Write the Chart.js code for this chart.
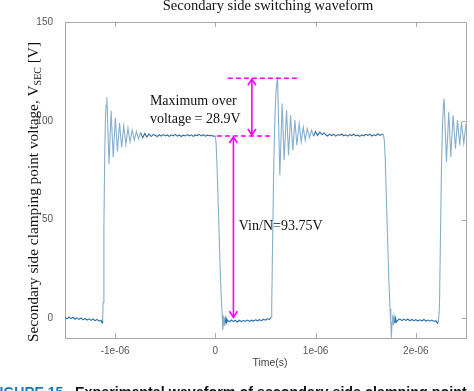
<!DOCTYPE html>
<html>
<head>
<meta charset="utf-8">
<script src="https://cdn.jsdelivr.net/npm/chart.js@4.4.1/dist/chart.umd.min.js"></script>
<style>
  html, body { margin: 0; padding: 0; background: #fff; }
  canvas { display: block; }
</style>
</head>
<body>
<canvas id="waveChart" width="474" height="391"></canvas>
<script>
// Waveform samples, [time in us, voltage in V]
const offA = [[-1.50,0.4],[-1.48,-0.3],[-1.46,0.6],[-1.44,-0.2],[-1.42,0.5],[-1.40,-0.5],[-1.38,0.2],[-1.36,-0.6],
  [-1.34,0.1],[-1.32,-0.8],[-1.30,-0.1],[-1.28,-0.9],[-1.26,-0.3],[-1.24,-1.1],[-1.22,-0.4],[-1.20,-1.2],
  [-1.18,-0.6],[-1.16,-1.5],[-1.14,-1.0],[-1.13,-2.4],[-1.125,-1.2]];
const riseA = [[-1.12,8],[-1.112,45],[-1.104,82],[-1.097,100],[-1.09,108],[-1.082,112]];
const ringA = [[-1.061,78],[-1.040,105],[-1.019,81.5],[-0.998,101.5],[-0.977,84.5],[-0.956,99],[-0.935,86.5],
  [-0.914,97.5],[-0.893,88],[-0.872,96.3],[-0.851,89.3],[-0.830,95.3],[-0.809,90.2],[-0.788,94.6],[-0.767,90.9],
  [-0.746,94],[-0.725,91.4],[-0.704,93.6],[-0.683,91.8],[-0.662,93.3],[-0.641,92],[-0.62,93]];
const onA = [[-0.60,92.6],[-0.58,92.0],[-0.56,92.9],[-0.54,92.2],[-0.52,93.0],[-0.50,92.3],[-0.48,92.8],[-0.46,92.1],
  [-0.44,92.9],[-0.42,92.4],[-0.40,93.1],[-0.38,92.2],[-0.36,92.8],[-0.34,92.0],[-0.32,92.7],[-0.30,92.3],
  [-0.28,93.0],[-0.26,92.4],[-0.24,92.9],[-0.22,92.1],[-0.20,92.8],[-0.18,92.5],[-0.16,93.1],[-0.14,92.3],
  [-0.12,92.9],[-0.10,92.2],[-0.08,92.7],[-0.06,92.4],[-0.04,92.6],[-0.02,92.2],[0.0,92.3]];
const fallA = [[0.008,88],[0.02,72],[0.033,50],[0.046,28],[0.058,11],[0.068,2],[0.074,-6],[0.078,-3],
  [0.083,1],[0.088,-3.5],[0.094,0.5],[0.10,-2.5],[0.106,0],[0.113,-2]];
const offB = [[0.12,-1.0],[0.14,-1.8],[0.16,-0.9],[0.18,-1.6],[0.20,-1.1],[0.22,-1.9],[0.24,-1.0],[0.26,-1.7],
  [0.28,-1.2],[0.30,-1.5],[0.32,-0.9],[0.34,-1.6],[0.36,-1.0],[0.38,-1.4],[0.40,-0.8],[0.42,-1.3],[0.44,-0.7],
  [0.46,-1.2],[0.48,-0.5],[0.50,-1.0],[0.52,-0.3],[0.54,-0.6],[0.555,0.5]];
const riseB = [[0.562,6],[0.57,35],[0.58,70],[0.59,95],[0.60,110],[0.61,118],[0.62,122]];
const ringB = [[0.643,72.4],[0.666,108.7],[0.686,80],[0.71,105.3],[0.73,82.5],[0.75,102.8],[0.773,85],[0.793,100.3],
  [0.813,87.6],[0.836,98.6],[0.856,89.3],[0.876,96.9],[0.896,90.1],[0.916,96],[0.939,91.5],[0.959,95.2],
  [0.979,92.2],[0.999,94.5],[1.019,92.6],[1.042,94.2],[1.065,93],[1.085,93.8]];
const onB = [[1.10,92.9],[1.12,92.3],[1.14,93.2],[1.16,92.5],[1.18,93.1],[1.20,92.2],[1.22,93.0],[1.24,92.6],
  [1.26,93.3],[1.28,92.4],[1.30,92.9],[1.32,92.2],[1.34,93.0],[1.36,92.5],[1.38,93.2],[1.40,92.3],[1.42,92.8],
  [1.44,92.1],[1.46,92.9],[1.48,92.4],[1.50,93.1],[1.52,92.6],[1.54,93.2],[1.56,92.3],[1.58,92.9],[1.60,92.5],
  [1.62,93.4],[1.64,92.6],[1.66,93.0],[1.675,93.2]];
const fallB = [[1.685,90],[1.695,80],[1.705,62],[1.718,40],[1.73,20],[1.742,5],[1.75,-3],[1.756,-9.8],[1.762,-2],
  [1.768,1.5],[1.775,-3.5],[1.782,0.8],[1.79,-2.5],[1.797,0],[1.805,-2]];
const offC = [[1.82,-1.0],[1.84,-0.3],[1.86,-1.2],[1.88,-0.5],[1.90,-1.1],[1.92,-0.4],[1.94,-1.3],[1.96,-0.6],
  [1.98,-1.2],[2.00,-0.7],[2.02,-1.4],[2.04,-0.8],[2.06,-1.3],[2.08,-0.6],[2.10,-1.4],[2.12,-0.9],[2.14,-1.5],
  [2.16,-0.9],[2.18,-1.6],[2.20,-1.2],[2.215,-2.6],[2.225,-1.5]];
const riseC = [[2.235,5],[2.245,40],[2.255,75],[2.265,97],[2.275,108],[2.282,111.2]];
const ringC = [[2.305,79.1],[2.328,104.5],[2.348,81.7],[2.371,102.8],[2.395,85.9],[2.415,100.3],[2.438,87.6],
  [2.455,99.4],[2.478,88.6],[2.5,98.5]];

const xTickValues = [-1, 0, 1, 2];
const xTickLabels = ['-1e-06', '0', '1e-06', '2e-06'];
const yTickValues = [0, 50, 100, 150];

// annotation levels (V)
const overshootLevel = 121.5;
const clampLevel = 92.3;

const waveform = [].concat(offA, riseA, ringA, onA, fallA, offB, riseB, ringB, onB, fallB, offC, riseC, ringC)
  .map(p => ({ x: p[0], y: p[1] }));

const MAGENTA = '#ff00ff';
const SERIF = '"Liberation Serif", "Times New Roman", serif';
const SANS = '"Liberation Sans", Arial, sans-serif';

const annotations = {
  topDash: [0.125, 0.82],
  midDash: [0.015, 0.57],
  overArrowT: 0.364,
  vinArrowT: 0.18,
  labels: [
    { text: 'Maximum over', t: -0.653, v: 107.8 },
    { text: 'voltage = 28.9V', t: -0.653, v: 98.7 },
    { text: 'Vin/N=93.75V', t: 0.234, v: 44.6 }
  ]
};

function arrowHead(ctx, x, y, dir) {
  // dir = -1 points up, 1 points down
  ctx.beginPath();
  ctx.moveTo(x - 4, y - dir * 6);
  ctx.lineTo(x, y);
  ctx.lineTo(x + 4, y - dir * 6);
  ctx.stroke();
}

const decorPlugin = {
  id: 'decor',
  afterDatasetsDraw(chart) {
    const { ctx, chartArea: a, scales: { x, y } } = chart;
    ctx.save();
    // frame and inward ticks
    ctx.strokeStyle = '#a8a8a8';
    ctx.lineWidth = 1;
    ctx.beginPath();
    ctx.moveTo(a.left, a.top + 0.5);
    ctx.lineTo(a.right + 0.5, a.top + 0.5);
    ctx.lineTo(a.right + 0.5, a.bottom);
    ctx.stroke();
    ctx.beginPath();
    xTickValues.forEach(v => {
      const px = Math.round(x.getPixelForValue(v)) + 0.5;
      ctx.moveTo(px, a.bottom); ctx.lineTo(px, a.bottom - 5);
      ctx.moveTo(px, a.top); ctx.lineTo(px, a.top + 5);
    });
    yTickValues.forEach(v => {
      const py = Math.round(y.getPixelForValue(v)) + 0.5;
      ctx.moveTo(a.right, py); ctx.lineTo(a.right - 4, py);
    });
    ctx.stroke();

    // magenta dimension lines
    ctx.strokeStyle = MAGENTA;
    ctx.lineWidth = 1.6;
    ctx.setLineDash([5, 3]);
    const yTop = y.getPixelForValue(overshootLevel);
    const yMid = y.getPixelForValue(clampLevel);
    const y0 = y.getPixelForValue(0);
    ctx.beginPath();
    ctx.moveTo(x.getPixelForValue(annotations.topDash[0]), yTop);
    ctx.lineTo(x.getPixelForValue(annotations.topDash[1]), yTop);
    ctx.moveTo(x.getPixelForValue(annotations.midDash[0]), yMid);
    ctx.lineTo(x.getPixelForValue(annotations.midDash[1]), yMid);
    ctx.stroke();
    ctx.setLineDash([]);

    const xo = x.getPixelForValue(annotations.overArrowT);
    const xv = x.getPixelForValue(annotations.vinArrowT);
    ctx.beginPath();
    ctx.moveTo(xo, yTop + 1); ctx.lineTo(xo, yMid - 1);
    ctx.moveTo(xv, yMid + 1); ctx.lineTo(xv, y0 - 1);
    ctx.stroke();
    arrowHead(ctx, xo, yTop + 1, -1);
    arrowHead(ctx, xo, yMid - 1, 1);
    arrowHead(ctx, xv, yMid + 1, -1);
    arrowHead(ctx, xv, y0 - 1, 1);

    ctx.fillStyle = '#111';
    ctx.font = '14px ' + SERIF;
    ctx.textBaseline = 'alphabetic';
    ctx.textAlign = 'left';
    annotations.labels.forEach(l => {
      ctx.fillText(l.text, x.getPixelForValue(l.t), y.getPixelForValue(l.v));
    });
    ctx.restore();
  },
  afterDraw(chart) {
    const { ctx } = chart;
    ctx.save();
    // title
    ctx.fillStyle = '#111';
    ctx.font = '14.5px ' + SERIF;
    ctx.textAlign = 'center';
    ctx.textBaseline = 'alphabetic';
    ctx.fillText('Secondary side switching waveform', 268, 10);

    // x title
    ctx.fillStyle = '#444';
    ctx.font = '10.5px ' + SANS;
    ctx.fillText('Time(s)', 270, 366);

    // y title with subscript
    const main = 'Secondary side clamping point voltage, V';
    const sub = 'SEC';
    const tail = ' [V]';
    ctx.font = '15.3px ' + SERIF;
    const wMain = ctx.measureText(main).width;
    const wTail = ctx.measureText(tail).width;
    ctx.font = '10px ' + SERIF;
    const wSub = ctx.measureText(sub).width;
    const total = wMain + wSub + wTail;
    ctx.translate(38, 192);
    ctx.rotate(-Math.PI / 2);
    ctx.fillStyle = '#111';
    ctx.textAlign = 'left';
    let cx = -total / 2;
    ctx.font = '15.3px ' + SERIF;
    ctx.fillText(main, cx, 0);
    cx += wMain;
    ctx.font = '10px ' + SERIF;
    ctx.fillText(sub, cx, 3);
    cx += wSub;
    ctx.font = '15.3px ' + SERIF;
    ctx.fillText(tail, cx, 0);
    ctx.setTransform(1, 0, 0, 1, 0, 0);

    // caption, cut off by the bottom edge
    ctx.font = 'bold 14px ' + SANS;
    ctx.textAlign = 'left';
    ctx.fillStyle = '#1b75b3';
    ctx.fillText('FIGURE 15.', -9, 397);
    const capText = 'Experimental waveform of secondary side clamping point';
    const capW = ctx.measureText(capText).width;
    const capSize = Math.min(15.5, 14 * 392 / capW);
    ctx.font = 'bold ' + capSize.toFixed(2) + 'px ' + SANS;
    ctx.fillStyle = '#111';
    ctx.fillText(capText, 75, 397);
    ctx.restore();
  }
};

const dark = '#2a6fa8';
const light = '#86afcc';

new Chart(document.getElementById('waveChart').getContext('2d'), {
  type: 'line',
  data: {
    datasets: [{
      data: waveform,
      borderWidth: 1.1,
      borderColor: dark,
      pointRadius: 0,
      tension: 0,
      segment: {
        borderColor: c => Math.abs(c.p1.parsed.y - c.p0.parsed.y) < 3 ? dark : light
      }
    }]
  },
  options: {
    responsive: false,
    animation: false,
    layout: { padding: { top: 22, right: 8, left: 0, bottom: 0 } },
    plugins: { legend: { display: false }, tooltip: { enabled: false } },
    scales: {
      x: {
        type: 'linear',
        min: -1.5,
        max: 2.5,
        grid: { display: false },
        border: { display: true, color: '#a8a8a8' },
        afterBuildTicks: s => { s.ticks = xTickValues.map(v => ({ value: v })); },
        afterFit: s => { s.height = 53; },
        ticks: {
          color: '#555',
          font: { family: SANS, size: 10 },
          padding: -1,
          maxRotation: 0,
          callback: v => xTickLabels[xTickValues.indexOf(v)]
        }
      },
      y: {
        min: -10,
        max: 150,
        grid: { display: false },
        border: { display: true, color: '#a8a8a8' },
        afterBuildTicks: s => { s.ticks = yTickValues.map(v => ({ value: v })); },
        afterFit: s => { s.width = 65; },
        ticks: {
          color: '#555',
          font: { family: SANS, size: 10 },
          padding: 4
        }
      }
    }
  },
  plugins: [decorPlugin]
});
</script>
</body>
</html>
